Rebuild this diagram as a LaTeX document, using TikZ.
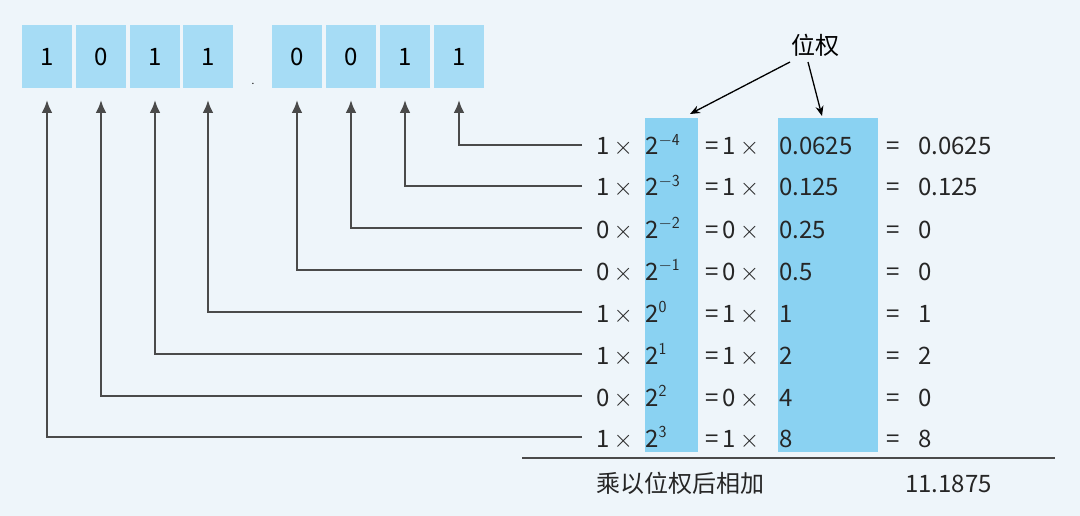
\documentclass[tikz,border=0pt]{standalone}
\usepackage{fontspec}
\setmainfont{Noto Sans CJK SC}
\usetikzlibrary{arrows.meta}
\definecolor{bg}{HTML}{EEF5FA}
\definecolor{cell}{HTML}{A6DCF5}
\definecolor{col}{HTML}{8AD2F2}
\definecolor{ln}{HTML}{4A4A4A}
\tikzset{
 bit/.style={fill=cell,minimum width=50pt,minimum height=63pt,inner sep=0,font=\fontsize{24}{24}\selectfont},
 conn/.style={draw=ln,line width=2.5pt,-{Latex[length=13pt,width=11pt]}},
 tx/.style={anchor=base west,inner sep=0,font=\fontsize{24}{24}\selectfont,text=black!85},
}
\begin{document}
\begin{tikzpicture}[x=1pt,y=-1pt]
\fill[bg] (0,0) rectangle (1080,516);
\useasboundingbox (0,0) rectangle (1080,516);
\fill[col] (645,118) rectangle (698,452);
\fill[col] (778,118) rectangle (878,452);
\foreach \x/\v/\n in {47/1/b1,101/0/b2,155/1/b3,208/1/b4,297/0/c1,351/0/c2,405/1/c3,459/1/c4}
  \node[bit] (\n) at (\x,57) {\v};
\node[inner sep=0] (dot) at (253,84) {\fontsize{10}{10}\selectfont.};
% rows
\foreach \y/\a/\p/\b/\v/\r/\n in {
 145/1/-4/1/0.0625/0.0625/r1,
 186/1/-3/1/0.125/0.125/r2,
 228/0/-2/0/0.25/0/r3,
 270/0/-1/0/0.5/0/r4,
 312/1/0/1/1/1/r5,
 354/1/1/1/2/2/r6,
 396/0/2/0/4/0/r7,
 437/1/3/1/8/8/r8}{
 \coordinate (\n) at (582,\y);
 \node[tx] at (596,\y+10) {\a\,$\times$};
 \node[tx] at (645,\y+10) {2$^{\mathsf{\p}}$};
 \node[tx] at (705,\y+10) {=\,\b\,$\times$};
 \node[tx] at (779,\y+10) {\v};
 \node[tx] at (886,\y+10) {=};
 \node[tx] at (918,\y+10) {\r};
}
\draw[conn] (r1) -| (c4.south|-0,100);
\draw[conn] (r2) -| (c3.south|-0,100);
\draw[conn] (r3) -| (c2.south|-0,100);
\draw[conn] (r4) -| (c1.south|-0,100);
\draw[conn] (r5) -| (b4.south|-0,100);
\draw[conn] (r6) -| (b3.south|-0,100);
\draw[conn] (r7) -| (b2.south|-0,100);
\draw[conn] (r8) -| (b1.south|-0,100);
\draw[ln,line width=1.5pt] (522,458) -- (1055,458);
\node[tx] (sum) at (596,492) {乘以位权后相加};
\node[tx] (res) at (905,492) {11.1875};
\node[inner sep=0,font=\fontsize{24}{24}\selectfont] (w) at (815,45) {位权};
\draw[black,line width=1.3pt,-{Stealth[length=10pt,width=8pt]}] (790,62) -- (690,114);
\draw[black,line width=1.3pt,-{Stealth[length=10pt,width=8pt]}] (808,62) -- (822,116);
\end{tikzpicture}
\end{document}
